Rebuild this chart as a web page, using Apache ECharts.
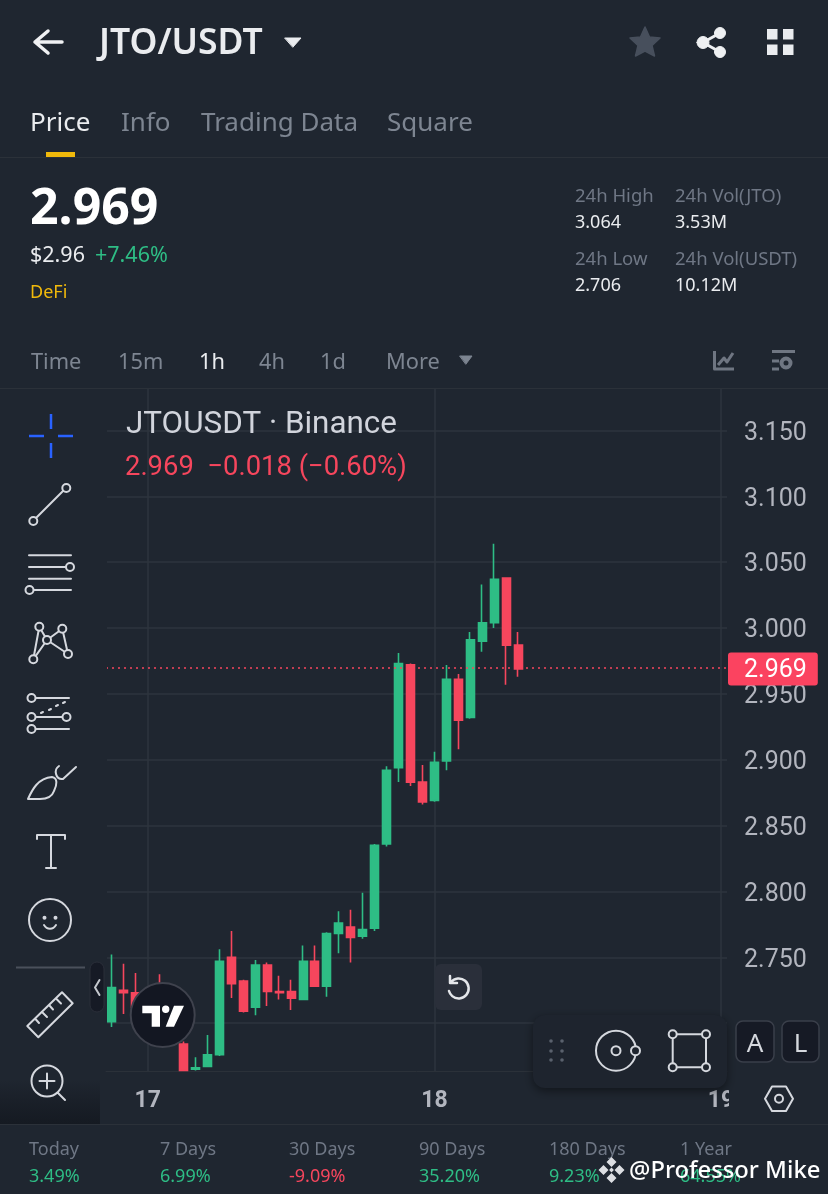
<!DOCTYPE html>
<html><head><meta charset="utf-8">
<style>html,body{margin:0;padding:0;background:#1f2630}#c{width:828px;height:1194px}</style>
<script src="https://cdn.jsdelivr.net/npm/echarts@6/dist/echarts.min.js"></script></head>
<body><div id="c"></div>
<script>
// ---- data
const opens  =[2.701,2.725,2.723,2.705,2.722,2.700,2.684,2.665,2.667,2.676,2.750,2.732,2.712,2.744,2.724,2.724,2.718,2.747,2.728,2.768,2.773,2.766,2.772,2.836,2.894,2.972,2.883,2.869,2.899,2.961,2.932,2.990,3.004,3.038,2.987];
const closes =[2.727,2.723,2.712,2.718,2.700,2.684,2.664,2.666,2.676,2.747,2.730,2.709,2.744,2.724,2.723,2.719,2.747,2.728,2.768,2.776,2.765,2.771,2.835,2.892,2.973,2.883,2.868,2.898,2.961,2.930,2.991,3.004,3.037,2.987,2.969];
const lows   =[2.697,2.707,2.709,2.700,2.695,2.683,2.664,2.664,2.667,2.675,2.719,2.708,2.706,2.713,2.718,2.710,2.718,2.728,2.720,2.753,2.746,2.764,2.770,2.834,2.883,2.880,2.866,2.868,2.892,2.908,2.931,2.982,3.000,2.957,2.963];
const highs  =[2.752,2.745,2.738,2.722,2.737,2.705,2.686,2.674,2.691,2.756,2.770,2.733,2.748,2.746,2.736,2.733,2.759,2.759,2.769,2.785,2.786,2.799,2.836,2.895,2.981,2.973,2.896,2.906,2.972,2.965,2.997,3.033,3.064,3.038,2.997];
const lastPrice=2.969;
const priceGridTicks=[2.70,2.75,2.80,2.85,2.90,2.95,3.00,3.05,3.10,3.15];
const priceLabelTicks=[2.75,2.80,2.85,2.90,2.95,3.00,3.05,3.10,3.15];
const tabs=[['Price',30,'#eaecef'],['Info',121,'#7d8591'],['Trading Data',201,'#7d8591'],['Square',387,'#7d8591']];
const intervals=[['Time',31,'#7d8591'],['15m',118,'#7d8591'],['1h',199,'#eaecef'],['4h',259,'#7d8591'],['1d',320,'#7d8591'],['More',386,'#7d8591']];
const stats=[['24h High','3.064',575,195],['24h Low','2.706',575,258],['24h Vol(JTO)','3.53M',675,195],['24h Vol(USDT)','10.12M',675,258]];
const periods=[['Today','3.49%',29],['7 Days','6.99%',160],['30 Days','-9.09%',289],['90 Days','35.20%',419],['180 Days','9.23%',549],['1 Year','64.55%',680]];

const UP='#2ebd85',DOWN='#f6465d',BG='#1f2630',GRID='#2e343e',ICON='#d5d8de',F='"Noto Sans",sans-serif';
// categories: hourly slots, starting 21:00 the day before "17"
const categories=[];
for(let i=0;i<52;i++){const h=(i+21)%24;const d=16+Math.floor((i+21)/24);categories.push(h===0?String(d):'');}
const hasLabel=(i,v)=>v!=='';

const E=[];
let pathId=0;
const t=(x,y,text,size,fill,o={})=>E.push({type:'text',z:o.z||100,x,y:y+size*(o.font?0.1:0.08),style:Object.assign({text,fontSize:size,fontFamily:o.font||F,fill,fontWeight:o.weight||'normal',align:o.align||'left',verticalAlign:'middle'},o.style||{})});
const p=(d,o={})=>{const name='svgp'+(pathId++);echarts.graphic.registerShape(name,echarts.graphic.extendPath(d,{}));
  E.push({type:name,z:o.z||100,style:{fill:o.fill||'none',stroke:o.stroke===undefined?ICON:o.stroke,lineWidth:o.lw||2,lineCap:o.cap||'round',lineJoin:'round'}});};
const c=(x,y,r)=>`M${x-r},${y}A${r},${r} 0 1 1 ${x+r},${y}A${r},${r} 0 1 1 ${x-r},${y}Z`;
const d4=(x,y,h)=>`M${x},${y-h}L${x+h},${y}L${x},${y+h}L${x-h},${y}Z`;
const r=(x,y,w,h,fill,o={})=>E.push({type:'rect',z:o.z||50,shape:{x,y,width:w,height:h,r:o.r||0},style:{fill,stroke:o.stroke||null,lineWidth:o.lw||1,shadowBlur:o.blur||0,shadowColor:'rgba(0,0,0,.45)',shadowOffsetY:o.blur?3:0}});

// panels that mask the chart pane
r(0,389,107,682,BG);
E.push({type:'rect',z:51,shape:{x:0,y:1080,width:100,height:44},style:{fill:{type:'linear',x:0,y:0,x2:0,y2:1,colorStops:[{offset:0,color:'rgba(20,24,32,0)'},{offset:1,color:'#151a22'}]}}});
r(729,1073,99,50,BG);
// top bar
p('M62,42H35M48,31L35,42L48,53',{stroke:'#f0f1f3',lw:3.5});
t(99,41,'JTO/USDT',35.5,'#eaecef',{weight:600});
p('M285,38H301L293,47Z',{fill:'#eaecef',stroke:'#eaecef',lw:1});
p('M645,27L649.5,37L660,38L652,45.5L654.5,56L645,51L635.5,56L638,45.5L630,38L640.5,37Z',{fill:'#474f5c',stroke:'#474f5c',lw:1.5});
p('M720,33L703,42.5L720,52',{stroke:'#eef0f2',lw:3});
p(c(720,33,5.5)+c(703,42.5,6)+c(720,52,5.5),{fill:'#eef0f2',stroke:'#eef0f2',lw:1});
[[767,29],[783,29],[767,44.5],[783,44.5]].forEach(a=>r(a[0],a[1],10.5,10.5,'#eaecef',{z:100}));
// tabs
tabs.forEach(a=>t(a[1],122,a[0],26,a[2]));
r(46,152,29,5,'#f0b90b',{z:100});
r(0,157,828,1,'#2b3139',{z:100});
// price block
t(30,206,'2.969',50,'#ffffff',{weight:700});
t(30,254,'$2.96',21.5,'#eaecef');
t(95,254,'+7.46%',21.5,UP);
t(30,291,'DeFi',18,'#f0b90b');
stats.forEach(a=>{t(a[2],a[3],a[0],18.5,'#6f7785');t(a[2],a[3]+26,a[1],18,'#eaecef');});
// intervals
intervals.forEach(a=>t(a[1],361,a[0],21.8,a[2]));
p('M460,356H472L466,364Z',{fill:'#7d8591',stroke:'#7d8591',lw:1});
p('M714.5,351V369H734M718,365L724,358L727,362L733,353',{stroke:'#6f7682',lw:3,cap:'butt'});
p('M772,351.5H795M772,361H779M772,369H779',{stroke:'#6f7682',lw:3,cap:'butt'});
p(c(786,363,4.5),{stroke:'#6f7682',lw:4});
r(0,388,828,1,'#2b3139',{z:100});
// legend over chart
t(126,422,'JTOUSDT \u00b7 Binance',31.4,'#d1d4dc',{font:'Roboto,sans-serif'});
t(125,465,'2.969  \u22120.018 (\u22120.60%)',27.4,DOWN,{font:'Roboto,sans-serif'});
// tool rail
p('M51,414V429M51,443V458M29,436H44M58,436H73',{stroke:'#2962ff',lw:2.5,cap:'butt'});
p('M36,518L63,491'+c(33.3,521,4)+c(66.3,488,4));
p('M29,555.3H71M29,567H66M29,578.7H71M34,590H71'+c(70,567,4)+c(29.5,590,4));
p('M33.3,659.3L39.3,626.7L47,640L62.3,628.7L68,654L47,640L33.3,659.3');
p(c(39.3,626.7,4)+c(62.3,628.7,4)+c(47,640,4)+c(68,654,4)+c(33.3,659.3,4),{fill:BG,z:101});
p('M35.5,698H69M35.5,717H62.5M35.5,729H69'+c(31.5,698,4)+c(31.5,717,4)+c(66.5,717,4)+c(31.5,729,4));
p('M41,713L43,712M49,710L51,709M56,706L58,705M63,703L65,702');
p('M28,799C32,790 38,778 52,777C58,778 57,785 54,791C52,797 46,799 40,799Z M59,766C53,770 56,780 63,779L76,767');
p('M37,839V835H65V839M51,835V868M46,868H56');
p(c(50,920,21)+'M44,925C47,930 53,930 56,925');
p(c(44.5,917.7,1)+c(55.5,917.7,1));
p('M16,967.5H85',{stroke:'#4a505b',cap:'butt'});
p('M27.3,1026L38.3,1037.3L72.7,1003.3L62,992.3ZM35,1018.5L39,1023M42,1012L47,1017M49,1005L53,1009.5M56,998.5L61,1003.5');
p(c(47,1081,15.5)+'M47,1073.5V1088.5M39.5,1081H54.5M58,1093L65,1100');
// rail chevron
r(90,962,14,50,'#161a25',{z:100,r:7,stroke:'#2a2e39'});
p('M99.5,980L95,987.5L99.5,995',{z:101,stroke:'#c5c8ce'});
// TradingView badge
E.push({type:'circle',z:100,shape:{cx:162.7,cy:1015,r:32},style:{fill:'#131722',stroke:'#3f424d',lineWidth:2}});
p('M142.3,1005.7H160V1026.7H151.7V1013.3H142.3Z'+c(165.7,1009.3,3.7)+'M174,1005.7H184L174,1026.7H165.7Z',{z:101,fill:'#fff',stroke:'none'});
// reset button
r(435,964,47,46,'#2a2f3a',{z:100,r:6});
p('M451,982A10,10 0 1 1 449,991M450,976V983H457',{z:101,stroke:'#e4e6ea',lw:2.5});
// floating tools
r(533,1015,194,73,'#1e242e',{z:100,r:12,blur:10});
[[551,1041],[562,1041],[551,1051],[562,1051],[551,1060],[562,1060]].forEach(a=>p(c(a[0],a[1],1.8),{z:101,fill:'#5a616d',stroke:'none'}));
p(c(616,1050.7,20),{z:101});
p(c(616,1050.7,4.5),{z:102});
E.push({type:'circle',z:102,shape:{cx:635.5,cy:1050.7,r:4.5},style:{fill:'#1e242e',stroke:ICON,lineWidth:2}});
p('M672.7,1034.3H706V1067.3H672.7Z',{z:101});
[[672.7,1034.3],[706,1034.3],[672.7,1067.3],[706,1067.3]].forEach(a=>E.push({type:'circle',z:102,shape:{cx:a[0],cy:a[1],r:4},style:{fill:'#1e242e',stroke:ICON,lineWidth:2}}));
r(736,1021,38,41,'#161a25',{z:100,r:7,stroke:'#3a3f4a',lw:1.5});
r(782,1021,37,41,'#161a25',{z:100,r:7,stroke:'#3a3f4a',lw:1.5});
t(755,1043,'A',26,'#d5d8de',{align:'center',z:101});
t(800.5,1043,'L',26,'#d5d8de',{align:'center',z:101});
p('M765,1098.7L772,1086.5H786L793,1098.7L786,1111H772Z'+c(779,1098.7,4));
r(0,1124,828,1,'#2b3139',{z:100});
// period strip
periods.forEach(a=>{t(a[2],1148,a[0],18,'#6f7785');t(a[2],1175,a[1],18,a[1][0]==='-'?DOWN:UP);});
// watermark
p(d4(611.5,1162,5)+d4(603.5,1170,5)+d4(619.5,1170,5)+d4(611.5,1178,5)+d4(611.5,1170,2.4),{z:110,fill:'#dcdee2',stroke:'none'});
t(629,1169,'@Professor Mike',23.8,'#ffffff',{z:110,weight:500,style:{shadowBlur:3,shadowColor:'rgba(0,0,0,.6)'}});

const PX=1317, gridTop=389, gridH=682;
const yMax=3+(628-gridTop)/PX, yMin=yMax-gridH/PX;

const chart=echarts.init(document.getElementById('c'),null,{width:828,height:1194});
chart.setOption({
  backgroundColor:BG,animation:false,
  grid:{left:106,top:gridTop,width:621,height:gridH},
  xAxis:{type:'category',data:categories,boundaryGap:true,
    axisLine:{show:true,lineStyle:{color:'#2b3139'}},axisTick:{show:false},
    axisLabel:{interval:hasLabel,color:'#b2b5be',fontSize:23,fontWeight:'bold',fontFamily:'Roboto,sans-serif',margin:19,hideOverlap:false},
    splitLine:{show:true,alignWithLabel:true,interval:hasLabel,lineStyle:{color:GRID,width:1.5}}},
  yAxis:{type:'value',position:'right',min:yMin,max:yMax,scale:true,
    axisLine:{show:false},
    axisTick:{show:false,customValues:priceGridTicks},
    axisLabel:{customValues:priceLabelTicks,color:'#b2b5be',fontSize:25,fontFamily:'Roboto,sans-serif',margin:17,verticalAlign:'top',lineHeight:6,formatter:v=>v.toFixed(3)},
    splitLine:{show:true,lineStyle:{color:GRID,width:1.5}}},
  series:[{type:'candlestick',barWidth:8.5,clip:true,
    itemStyle:{color:UP,color0:DOWN,borderColor:UP,borderColor0:DOWN,borderWidth:1.6},
    data:opens.map((o,i)=>[o,closes[i],lows[i],highs[i]]),
    markLine:{silent:true,symbol:'none',animation:false,
      lineStyle:{color:DOWN,type:[2,4],width:1.5},
      label:{position:'end',distance:1,verticalAlign:'top',offset:[0,-15],formatter:()=>lastPrice.toFixed(3),backgroundColor:'#fb4360',color:'#fff',fontSize:25,lineHeight:25,fontFamily:'Roboto,sans-serif',padding:[6,11,2,16],borderRadius:3},
      data:[{yAxis:lastPrice}]}}],
  graphic:{elements:E}
});
</script></body></html>
